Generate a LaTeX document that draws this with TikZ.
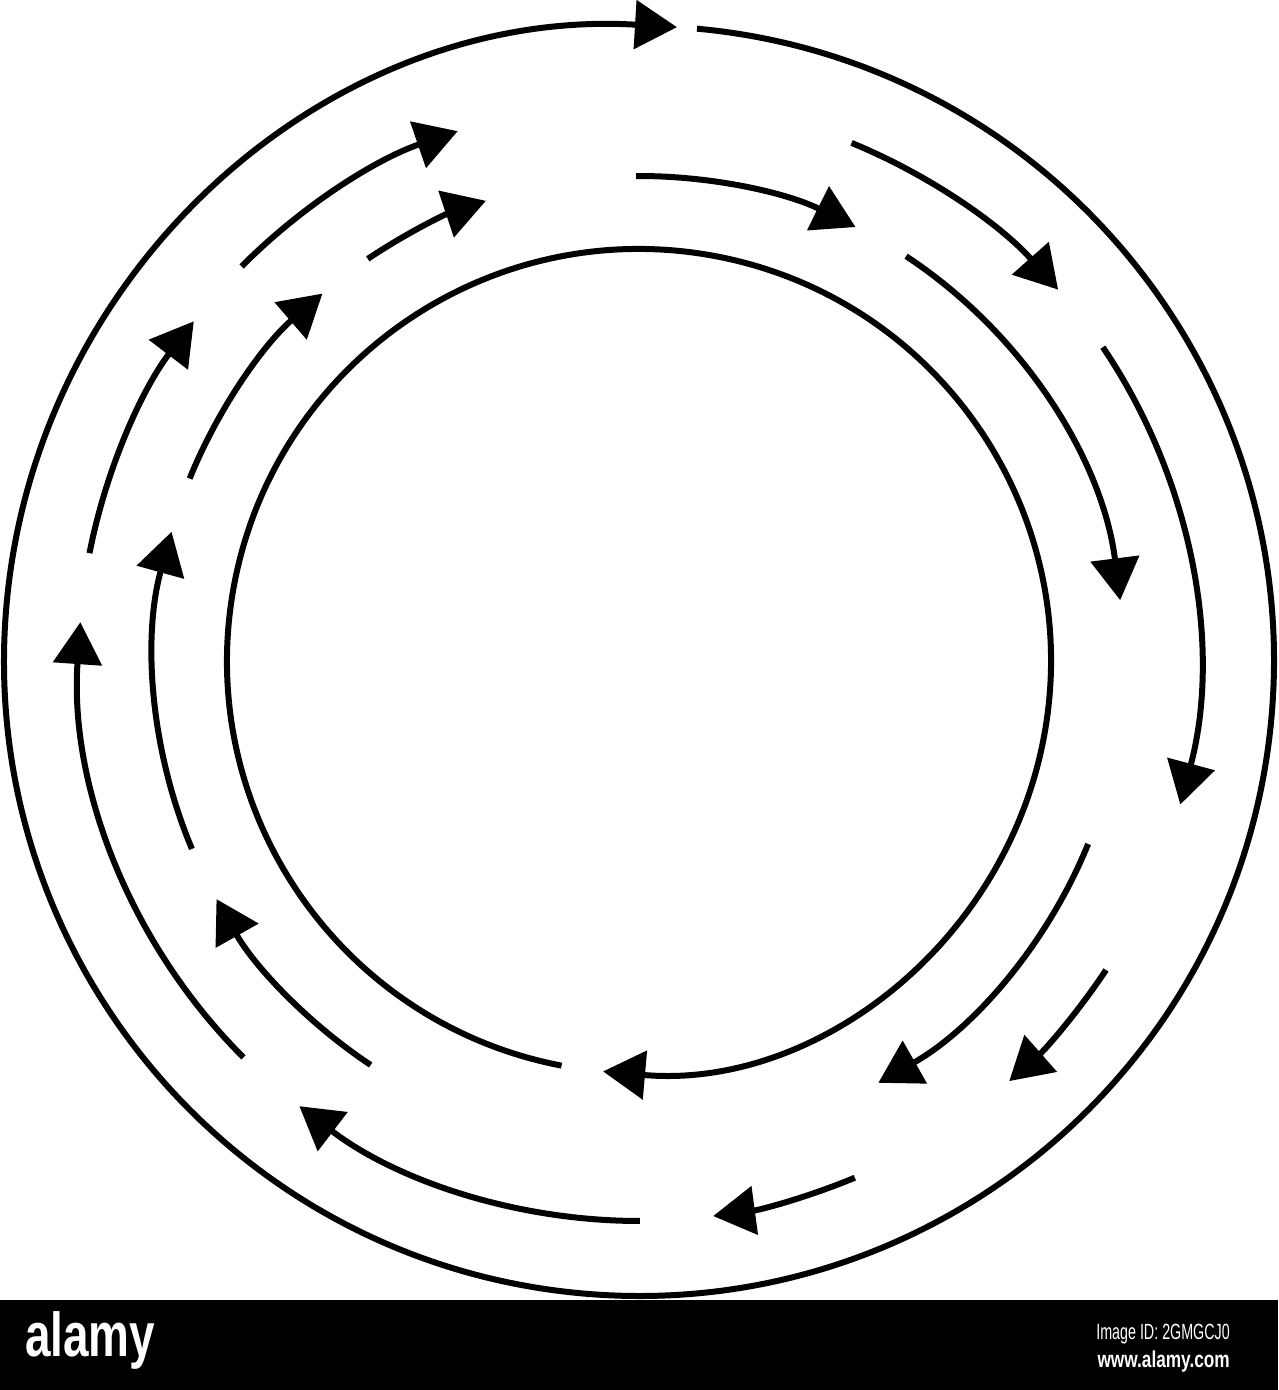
\documentclass[tikz,border=0pt]{standalone}
\usepackage{fontspec}
\usepackage{graphicx}
\setmainfont{Liberation Sans}
\usetikzlibrary{arrows.meta}
\begin{document}
\begin{tikzpicture}[x=1pt,y=1pt,
  ring/.style={line width=6pt},
  flow/.style={ring,-{Triangle[length=42pt,width=48pt]}},
  wm/.style={text=white,inner sep=0pt}]
\useasboundingbox (0,0) rectangle (1278,1390);
\fill[white] (0,0) rectangle (1278,1390);
\begin{scope}[shift={(639,729)}]
  % outer ring
  \draw[flow] (84.76:635) arc[start angle=84.76,end angle=-273.43,radius=635pt];
  % ring r=560
  \draw[flow] (67.69:560) arc[start angle=67.69,end angle=41.54,radius=560pt];
  \draw[flow] (34.08:560) arc[start angle=34.08,end angle=-14.85,radius=560pt];
  \draw[flow] (-33.49:560) arc[start angle=-33.49,end angle=-48.61,radius=560pt];
  \draw[flow] (-67.33:560) arc[start angle=-67.33,end angle=-82.39,radius=560pt];
  \draw[flow] (-89.9:560) arc[start angle=-89.9,end angle=-127.34,radius=560pt];
  \draw[flow] (-134.93:560) arc[start angle=-134.93,end angle=-183.98,radius=560pt];
  \draw[flow] (-191.1:560) arc[start angle=-191.1,end angle=-217.34,radius=560pt];
  \draw[flow] (-224.79:560) arc[start angle=-224.79,end angle=-251.11,radius=560pt];
  % ring r=485
  \draw[flow] (90.35:485) arc[start angle=90.35,end angle=63.48,radius=485pt];
  \draw[flow] (56.58:485) arc[start angle=56.58,end angle=7.2,radius=485pt];
  \draw[flow] (-22.17:485) arc[start angle=-22.17,end angle=-60.43,radius=485pt];
  \draw[flow] (-123.59:485) arc[start angle=-123.59,end angle=-150.59,radius=485pt];
  \draw[flow] (-157.2:485) arc[start angle=-157.2,end angle=-195.45,radius=485pt];
  \draw[flow] (-202.1:485) arc[start angle=-202.1,end angle=-229.25,radius=485pt];
  \draw[flow] (-236.0:485) arc[start angle=-236.0,end angle=-251.6,radius=485pt];
  % inner ring
  \draw[flow] (259.16:412) arc[start angle=259.16,end angle=-95.0,radius=412pt];
\end{scope}
% watermark bar
\fill[black] (0,0) rectangle (1278,90);
\node[wm,anchor=base west,font=\bfseries\fontsize{62}{62}\selectfont] (logo) at (25,33) {\scalebox{0.74}[1]{alamy}};
\node[wm,anchor=base east,font=\fontsize{22}{22}\selectfont] (imgid) at (1230,50) {\scalebox{0.65}[1]{Image ID: 2GMGCJ0}};
\node[wm,anchor=base east,font=\bfseries\fontsize{23}{23}\selectfont] (url) at (1230,23) {\scalebox{0.75}[1]{www.alamy.com}};
\end{tikzpicture}
\end{document}
